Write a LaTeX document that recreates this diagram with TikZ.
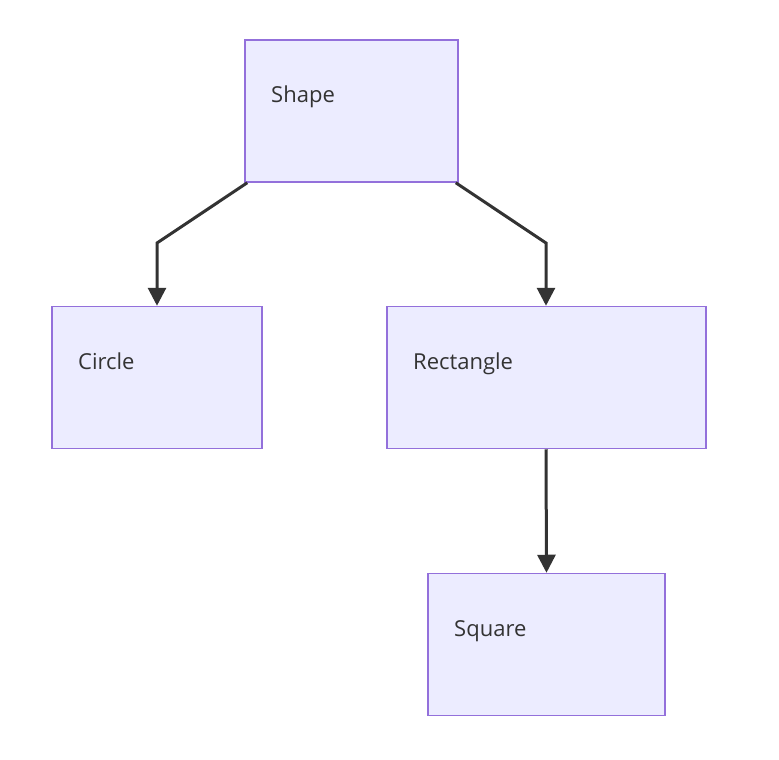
\documentclass[tikz,border=0pt]{standalone}
\usepackage{fontspec}
\setmainfont{Open Sans}
\usetikzlibrary{arrows.meta}
\definecolor{boxfill}{HTML}{ECECFF}
\definecolor{boxline}{HTML}{9370DB}
\definecolor{edge}{HTML}{333333}
\tikzset{
  box/.style={draw=boxline, fill=boxfill, line width=1.5pt, minimum width=#1, minimum height=142pt, inner sep=0pt},
  txt/.style={anchor=base west, font=\fontsize{22}{26}\selectfont, text=edge, inner sep=0pt},
  arr/.style={draw=edge, line width=3pt, -{Triangle[length=18pt,width=18pt]}}
}
\begin{document}
\begin{tikzpicture}[x=1pt,y=-1pt]
\useasboundingbox[fill=white] (0,0) rectangle (779,760);
\node[box=213pt] (shape) at (351.5,111) {};
\node[box=210pt] (circle) at (157,377.5) {};
\node[box=319pt] (rect) at (546.5,377.5) {};
\node[box=237pt] (square) at (546.5,644.5) {};
\node[txt] (t1) at (271,102) {Shape};
\node[txt] (t2) at (78,369) {Circle};
\node[txt] (t3) at (413,369) {Rectangle};
\node[txt] (t4) at (454,636) {Square};
\draw[arr] ([xshift=3pt]shape.south west) -- (157,243) -- (circle.north);
\draw[arr] ([xshift=-3pt]shape.south east) -- (546,243) -- ([xshift=-0.5pt]rect.north);
\draw[arr] ([xshift=-0.5pt]rect.south) -- (square.north);
\end{tikzpicture}
\end{document}
